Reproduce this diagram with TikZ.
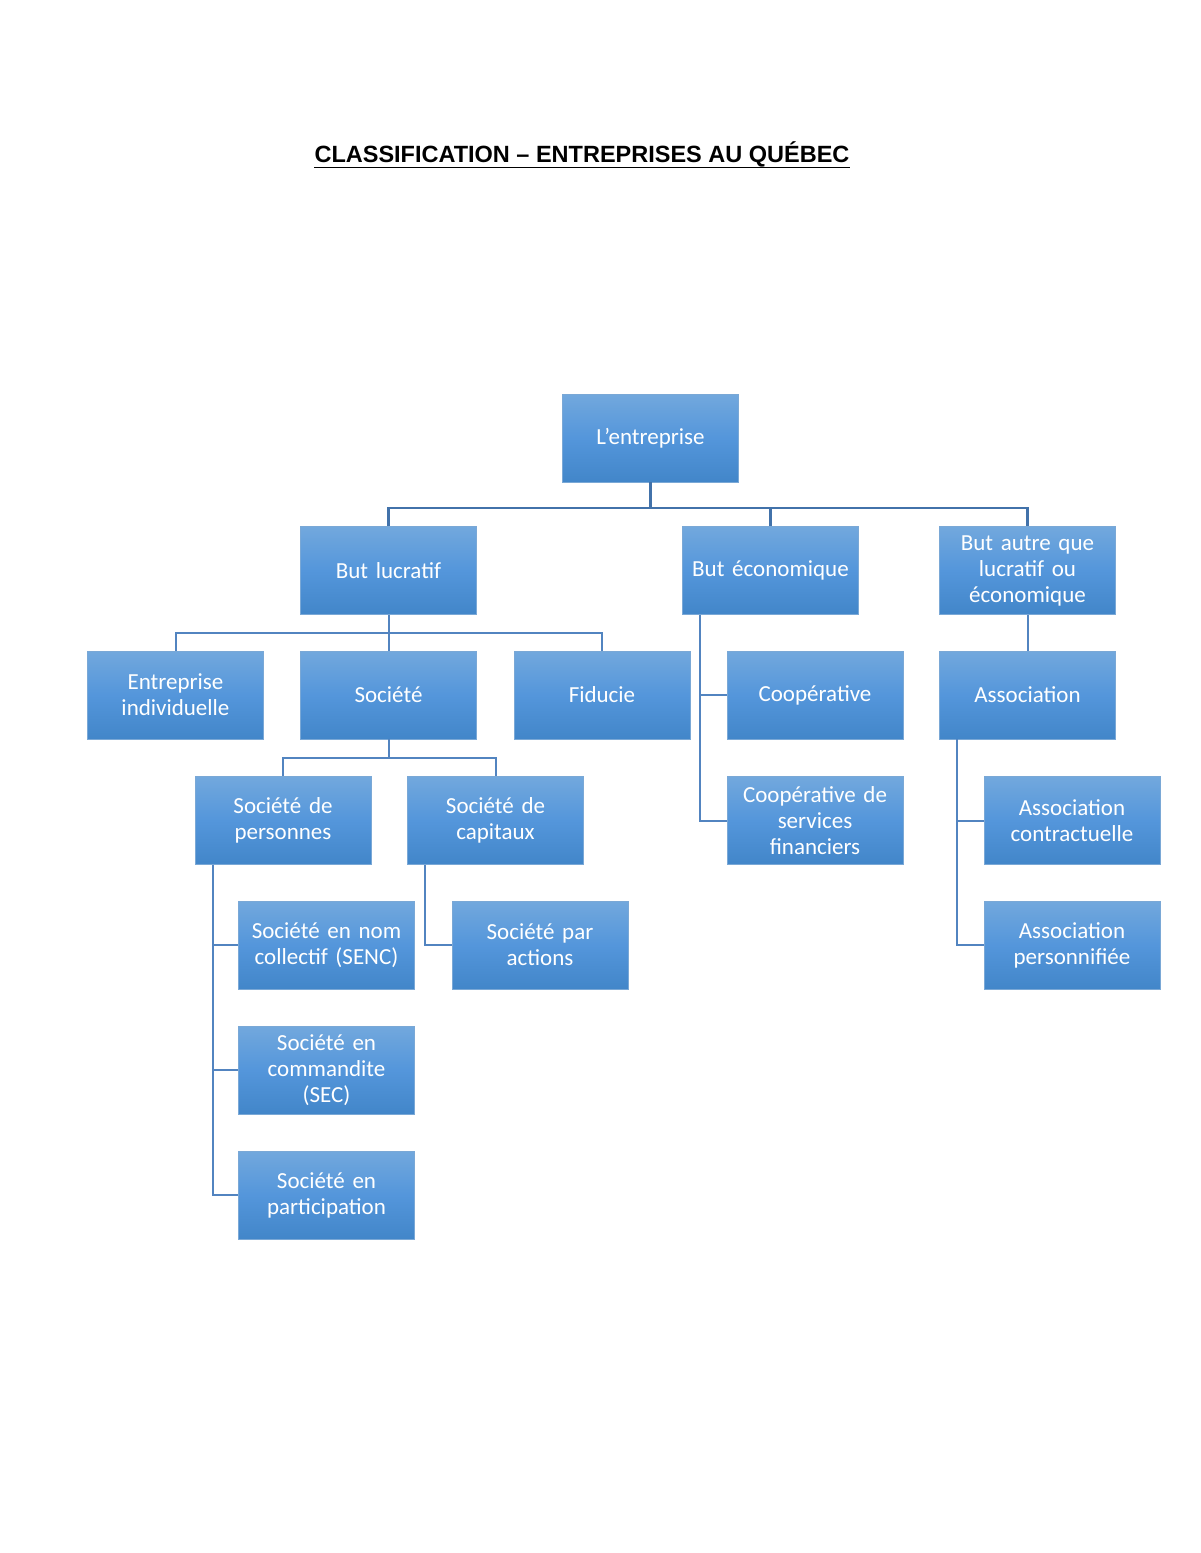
\documentclass[tikz,border=0pt]{standalone}
\usepackage{fontspec}
\setmainfont{Carlito}
\newfontfamily\titrefont{Liberation Sans}
\usetikzlibrary{positioning}

\definecolor{haut}{RGB}{114,168,221}
\definecolor{milieu}{RGB}{84,150,219}
\definecolor{bas}{RGB}{66,134,201}
\definecolor{bord}{RGB}{122,168,214}
\definecolor{trait}{RGB}{82,132,192}
\definecolor{traitfonce}{RGB}{66,114,170}

\begin{document}
\begin{tikzpicture}[x=1pt,y=-1pt,
  boite/.style={draw=bord,line width=0.8pt,top color=haut,bottom color=bas,middle color=milieu,
    minimum width=176pt,minimum height=88pt,inner sep=2pt,text width=170pt,align=center,
    text=white,font=\fontsize{23}{26}\selectfont},
  lien/.style={draw=trait,line width=2pt},
  bus/.style={draw=traitfonce,line width=2.5pt}]
\useasboundingbox[fill=white] (0,0) rectangle (1200,1553);

\node[font=\titrefont\bfseries\fontsize{23.5}{28}\selectfont,anchor=base,inner sep=0] (titre) at (582,162) {CLASSIFICATION – ENTREPRISES AU QUÉBEC};
\draw[line width=1.8pt] ([yshift=-5.5pt]titre.base west) -- ([yshift=-5.5pt]titre.base east);

\node[boite] (ent) at (650.5,438) {L’entreprise};
\node[boite] (lucr) at (388.5,570.5) {But lucratif};
\node[boite] (econ) at (770.5,570.5) {But économique};
\node[boite] (autre) at (1027.5,570.5) {But autre que\\lucratif ou\\économique};
\node[boite] (indiv) at (175.5,695) {Entreprise\\individuelle};
\node[boite] (soc) at (388.5,695) {Société};
\node[boite] (fid) at (602,695) {Fiducie};
\node[boite] (coop) at (815,695) {Coopérative};
\node[boite] (assoc) at (1027.5,695) {Association};
\node[boite] (socpers) at (283,820.5) {Société de\\personnes};
\node[boite] (soccap) at (495.5,820.5) {Société de\\capitaux};
\node[boite] (coopfin) at (815,820.5) {Coopérative de\\services\\financiers};
\node[boite] (acontr) at (1072,820.5) {Association\\contractuelle};
\node[boite] (senc) at (326.5,945) {Société en nom\\collectif (SENC)};
\node[boite] (spa) at (540,945) {Société par\\actions};
\node[boite] (apers) at (1072,945) {Association\\personnifiée};
\node[boite] (sec) at (326.5,1070) {Société en\\commandite\\(SEC)};
\node[boite] (sep) at (326.5,1195) {Société en\\participation};

\coordinate (b1) at (0,508);
\coordinate (b2) at (0,633);
\coordinate (b3) at (0,758);
\draw[bus] (ent.south) -- (ent.south |- b1);
\draw[bus] (lucr.north) |- (autre.north |- b1) -- (autre.north);
\draw[bus] (econ.north) -- (econ.north |- b1);
\draw[lien] (indiv.north) |- (fid.north |- b2) -- (fid.north);
\draw[lien] (lucr.south) -- (soc.north);
\draw[lien] (autre.south) -- (assoc.north);
\draw[lien] (socpers.north) |- (soccap.north |- b3) -- (soccap.north);
\draw[lien] (soc.south) -- (soc.south |- b3);
\foreach \p/\e in {econ/coop,econ/coopfin,socpers/senc,socpers/sec,socpers/sep,soccap/spa,assoc/acontr,assoc/apers}
  \draw[lien] ([xshift=18pt]\p.south west) |- (\e.west);
\end{tikzpicture}
\end{document}
